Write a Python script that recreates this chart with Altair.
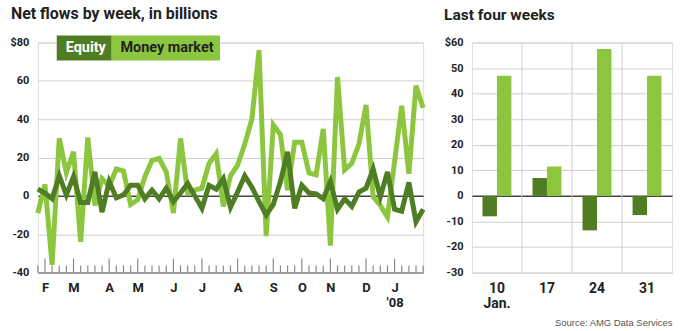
import altair as alt
import pandas as pd

# ---------------- data ----------------
week = list(range(55))
equity = [3.5, 1.5, -1.5, 10.5, 0.5, 10, -3.5, -3.5, 12.5, -8.5,
          7.5, -1, 0.5, 5.5, 5.5, -1.5, 3, -1.5, 4, -3,
          1.5, 6.5, 0, -6.5, 5.5, 3.5, 9, -6, 2, 10.5,
          4.5, -3, -10, -4.5, 7.5, 23, -6.5, 5.5, 1.5, 1,
          -1.5, 7.5, -7, -1.5, -5.5, 2, 4, 14, -0.5, 12.5,
          -7, -8, 7, -13.5, -7]
money = [-9, 6, -36, 30, 12, 23, -24, 30.5, -5, 9,
         5, 14, 13, -4.5, -2, 10, 18.5, 19.5, 12.5, -9,
         30, 1.5, 3, 4, 17, 22, -5.5, 10.5, 16, 27,
         40, 76, -21, 37, 32, 3, 28, 28, 12, 11,
         35, -26, 62, 13.5, 17, 27, 47.5, -0.5, -5, -11,
         18, 47, 11.5, 57.5, 46]
month_pos = [1, 5, 10, 14, 19, 23, 28, 33, 37, 41, 46, 50]
month_lab = ["F", "M", "A", "M", "J", "J", "A", "S", "O", "N", "D", "J"]
year_lab = "'08"
series = ["Equity", "Money market"]
bar_days = ["10", "17", "24", "31"]
bar_month = "Jan."
bar_equity = [-8, 7, -13.5, -7.5]
bar_money = [47, 11.5, 57.5, 47]
left_ticks = [-40, -20, 0, 20, 40, 60, 80]
right_ticks = [-30, -20, -10, 0, 10, 20, 30, 40, 50, 60]

DARK = "#4f7d24"
LIGHT = "#8cc63f"
GRID = "#cfcfcf"
ZERO = "#444444"
TXT = "#222222"
FONT = "Roboto, 'Liberation Sans', sans-serif"
FONT_REG = "'Liberation Sans', Arial, sans-serif"

lines = pd.DataFrame({
    "week": week * 2,
    "series": [series[0]] * len(week) + [series[1]] * len(week),
    "value": equity + money,
})
ticks_df = pd.DataFrame({"week": week, "major": [w in month_pos for w in week]})
bars = pd.DataFrame({
    "day": bar_days * 2,
    "series": [series[0]] * 4 + [series[1]] * 4,
    "value": bar_equity + bar_money,
})

grid_color = {"condition": {"test": "datum.value === 0", "value": ZERO}, "value": GRID}
grid_width = {"condition": {"test": "datum.value === 0", "value": 1.5}, "value": 1}

lab_js = "[" + ",".join("'" + m + "'" for m in month_lab) + "]"
pos_js = "[" + ",".join(str(p) for p in month_pos) + "]"
month_expr = (f"datum.value == {month_pos[-1]} ? ['{month_lab[-1]}', \"{year_lab}\"] : "
              f"{lab_js}[indexof({pos_js}, datum.value)]")

x_scale_left = alt.Scale(domain=[0, 54], nice=False, zero=False)
x_axis_left = alt.Axis(values=month_pos, labelExpr=month_expr, ticks=False, grid=False,
                       domain=True, domainColor="#8a8a8a", domainWidth=1.5,
                       labelFont=FONT, labelFontSize=13, labelFontWeight="bold",
                       labelColor=TXT, labelPadding=9, labelLineHeight=15, title=None)
x_left = alt.X("week:Q", scale=x_scale_left, axis=x_axis_left, title=None)

y_scale_left = alt.Scale(domain=[-40, 80], nice=False)
y_axis_left = alt.Axis(values=left_ticks,
                       labelExpr="datum.value == 80 ? '$80' : '' + datum.value",
                       grid=True, gridColor=grid_color, gridWidth=grid_width,
                       ticks=False, domain=False, labelPadding=9,
                       minExtent=27, maxExtent=27,
                       labelFont=FONT, labelFontSize=11, labelFontWeight="bold",
                       labelColor=TXT, title=None)
y_left = alt.Y("value:Q", scale=y_scale_left, axis=y_axis_left, title=None)


def legend(fill, label_color, lx):
    return alt.Legend(title=None, orient="none", legendX=lx, legendY=-7,
                      fillColor=fill, labelColor=label_color, labelFont=FONT,
                      labelFontSize=14.5, labelFontWeight="bold", padding=5.5,
                      symbolType="circle", symbolSize=0, symbolOpacity=0,
                      symbolStrokeWidth=0, labelOffset=alt.ExprRef("-11"))


def tick_layer(flag, top):
    return alt.Chart(ticks_df).transform_filter(flag).mark_rule(
        color="#8a8a8a", strokeWidth=1.2).encode(
        x=x_left,
        y=alt.Y(datum=-40, scale=y_scale_left, axis=y_axis_left, title=None),
        y2=alt.datum(top))


minor_ticks = tick_layer("!datum.major", -36.3)
major_ticks = tick_layer("datum.major", -32.7)

mm_line = alt.Chart(lines).transform_filter(f"datum.series == '{series[1]}'").mark_line(
    strokeWidth=5).encode(
    x=x_left, y=y_left,
    color=alt.Color("series:N", scale=alt.Scale(domain=[series[1]], range=[LIGHT]),
                    legend=legend(LIGHT, TXT, 74)))
eq_line = alt.Chart(lines).transform_filter(f"datum.series == '{series[0]}'").mark_line(
    strokeWidth=5).encode(
    x=x_left, y=y_left,
    color=alt.Color("series:N", scale=alt.Scale(domain=[series[0]], range=[DARK]),
                    legend=legend(DARK, "white", 19)))

TITLE_OFFSET = 1

left = alt.layer(mm_line, eq_line, minor_ticks, major_ticks).resolve_scale(
    color="independent").properties(
    width=387, height=231,
    title=alt.TitleParams("Net flows by week, in billions", anchor="start", frame="group",
                          dx=-27, offset=TITLE_OFFSET, baseline="alphabetic", fontSize=16,
                          font=FONT, fontWeight="bold", color=TXT))

x_axis_right = alt.Axis(
    labelExpr=f"datum.value == '{bar_days[0]}' ? ['{bar_days[0]}', '{bar_month}'] : datum.value",
    labelAngle=0, ticks=False, domain=False, grid=False,
    labelFont=FONT, labelFontSize=14, labelFontWeight="bold",
    labelColor=TXT, labelPadding=9, labelLineHeight=15, title=None)
x_scale_right = alt.Scale(domain=bar_days, paddingInner=0, paddingOuter=0)

y_right = alt.Y(
    "value:Q",
    scale=alt.Scale(domain=[-30, 60], nice=False),
    axis=alt.Axis(values=right_ticks,
                  labelExpr="datum.value == 60 ? '$60' : '' + datum.value",
                  grid=True, gridColor=grid_color, gridWidth=grid_width,
                  ticks=False, domain=False, labelPadding=9,
                  minExtent=28, maxExtent=28,
                  labelFont=FONT, labelFontSize=11, labelFontWeight="bold",
                  labelColor=TXT, title=None),
    title=None,
)

sep = alt.Chart(bars).transform_filter(
    f"datum.series == '{series[0]}' && datum.day != '{bar_days[0]}'").mark_rule(
    color=GRID, strokeWidth=1).encode(
    x=alt.X("day:N", bandPosition=0, scale=x_scale_right, axis=x_axis_right, title=None))
bar = alt.Chart(bars).mark_bar().encode(
    x=alt.X("day:N", scale=x_scale_right, axis=x_axis_right, title=None),
    xOffset=alt.XOffset("series:N", sort=series,
                        scale=alt.Scale(domain=series, paddingInner=0, paddingOuter=0.73)),
    y=y_right,
    color=alt.Color("series:N", scale=alt.Scale(domain=series, range=[DARK, LIGHT]), legend=None),
)

right = alt.layer(sep, bar).properties(
    width=201, height=231,
    title=alt.TitleParams("Last four weeks", anchor="start", frame="group",
                          dx=-28, offset=TITLE_OFFSET, baseline="alphabetic", fontSize=15.6,
                          font=FONT, fontWeight="bold", color=TXT))

chart = alt.hconcat(left, right, spacing=49, bounds="flush").resolve_scale(
    color="independent").properties(
    title=alt.TitleParams("Source: AMG Data Services", orient="bottom", anchor="end",
                          fontSize=9.5, font=FONT_REG, fontWeight="normal", color="#555555",
                          offset=7),
    padding={"left": 9, "top": 4, "right": 8, "bottom": 4},
).configure_view(stroke=None).configure(background="white")

chart.save("out.html", embed_options={"renderer": "svg", "actions": False})
